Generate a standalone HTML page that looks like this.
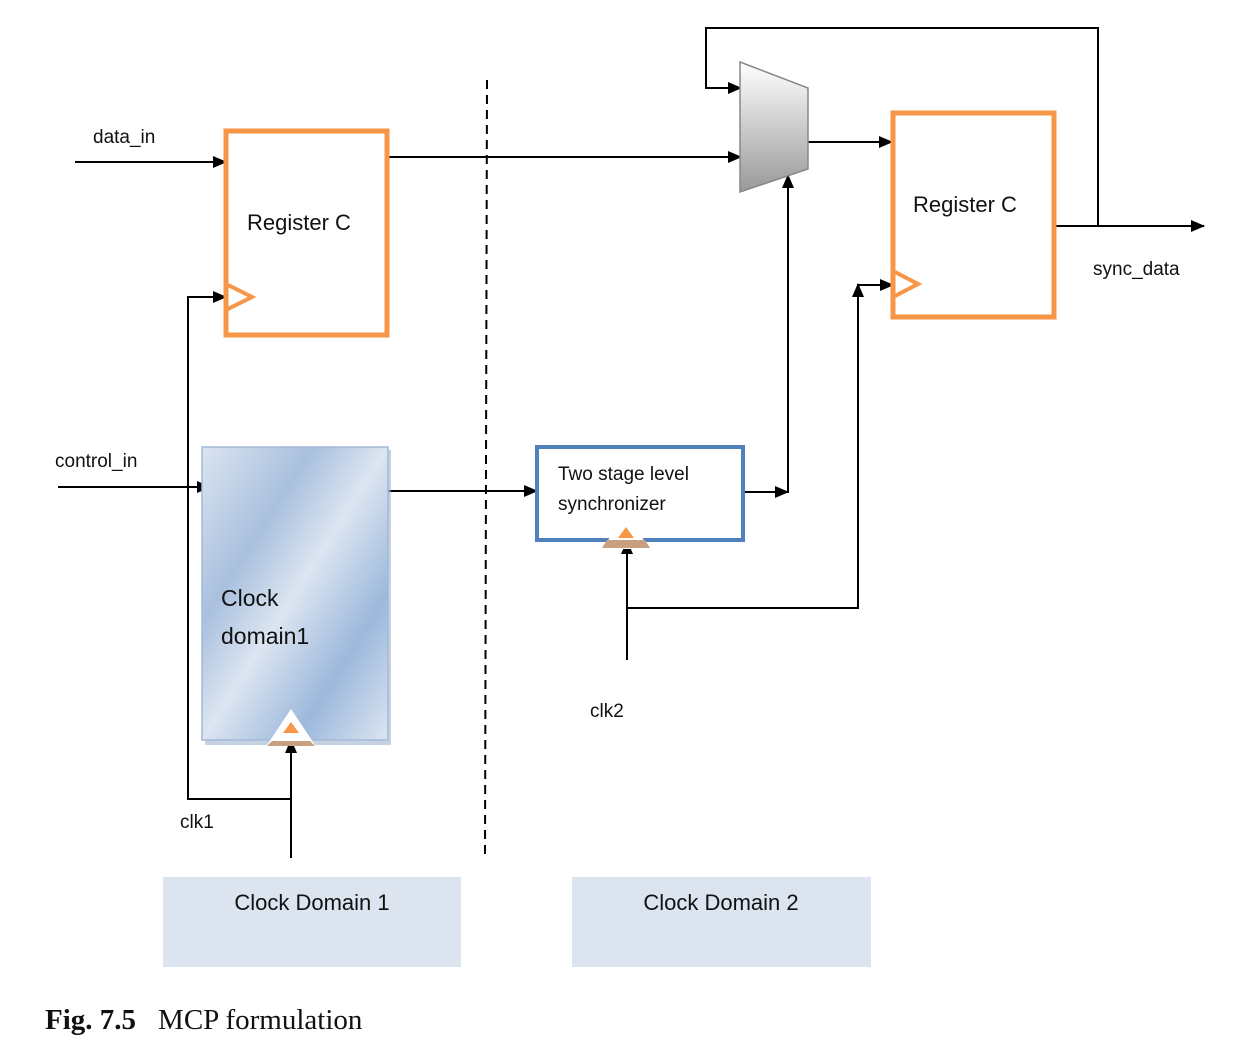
<!DOCTYPE html>
<html><head><meta charset="utf-8"><style>
html,body{margin:0;padding:0;background:#fff;}
svg{display:block;}
text{font-family:"Liberation Sans",sans-serif;fill:#111;}
</style></head><body>
<svg width="1238" height="1046" viewBox="0 0 1238 1046" xmlns="http://www.w3.org/2000/svg">
<defs>
<marker id="a" markerWidth="14" markerHeight="12" refX="13" refY="6" orient="auto" markerUnits="userSpaceOnUse">
<path d="M0,0 L14,6 L0,12 Z" fill="#000"/></marker>
<linearGradient id="mux" x1="0" y1="0" x2="0" y2="1">
<stop offset="0" stop-color="#ffffff"/><stop offset="1" stop-color="#999"/></linearGradient>
<linearGradient id="cd" x1="0" y1="0" x2="1" y2="1">
<stop offset="0" stop-color="#dbe4f0"/><stop offset="0.3" stop-color="#a9c0de"/><stop offset="0.5" stop-color="#dce5f1"/><stop offset="0.75" stop-color="#9cb8dc"/><stop offset="1" stop-color="#dce5f1"/></linearGradient>
</defs>
<g stroke="#000" stroke-width="2" fill="none">
<line x1="487" y1="80" x2="485" y2="855" stroke-dasharray="9,6"/>
<line x1="75" y1="162" x2="226" y2="162" marker-end="url(#a)"/>
<line x1="387" y1="157" x2="741" y2="157" marker-end="url(#a)"/>
<line x1="291" y1="858" x2="291" y2="740" marker-end="url(#a)"/>
<polyline points="291,799 188,799 188,297 226,297" marker-end="url(#a)"/>
<line x1="58" y1="487" x2="210" y2="487" marker-end="url(#a)"/>
<line x1="388" y1="491" x2="537" y2="491" marker-end="url(#a)"/>
<polyline points="744,492 788,492 788,175" marker-end="url(#a)"/>
<line x1="770" y1="492" x2="788" y2="492" marker-end="url(#a)"/>
<line x1="627" y1="660" x2="627" y2="541" marker-end="url(#a)"/>
<polyline points="627,608 858,608 858,284" marker-end="url(#a)"/>
<line x1="858" y1="285" x2="893" y2="285" marker-end="url(#a)"/>
<line x1="808" y1="142" x2="892" y2="142" marker-end="url(#a)"/>
<line x1="1054" y1="226" x2="1204" y2="226" marker-end="url(#a)"/>
<polyline points="1098,226 1098,28 706,28 706,88 741,88" marker-end="url(#a)"/>
</g>
<path d="M740,62 L808,88 L808,169 L740,192 Z" fill="url(#mux)" stroke="#888" stroke-width="1.5"/>
<rect x="226" y="131" width="161" height="204" fill="none" stroke="#f79646" stroke-width="5"/>
<polyline points="228,285 252,297 228,309" fill="none" stroke="#f79646" stroke-width="4"/>
<text x="247" y="230" font-size="22">Register C</text>
<rect x="893" y="113" width="161" height="204" fill="none" stroke="#f79646" stroke-width="5"/>
<polyline points="895,272 918,284 895,296" fill="none" stroke="#f79646" stroke-width="4"/>
<text x="913" y="212" font-size="22">Register C</text>
<rect x="205" y="450" width="186" height="295" fill="#9fb4cf" opacity="0.6"/>
<rect x="202" y="447" width="186" height="293" fill="url(#cd)" stroke="#a3b9d8" stroke-width="1.5"/>
<text x="221" y="606" font-size="23">Clock</text>
<text x="221" y="644" font-size="23">domain1</text>
<polygon points="291,709 315,745 267,745" fill="#fff"/>
<polygon points="272,741 310,741 315,746 267,746" fill="#c8a080"/>
<polygon points="291,722 299,733 283,733" fill="#f79646"/>
<rect x="537" y="447" width="206" height="93" fill="#fff" stroke="#4f81bd" stroke-width="4"/>
<text x="558" y="480" font-size="19">Two stage level</text>
<text x="558" y="510" font-size="19">synchronizer</text>
<polygon points="626,514 650,549 602,549" fill="#fff"/>
<polygon points="607,540 645,540 650,548 602,548" fill="#c8a080"/>
<polygon points="626,527 634,538 618,538" fill="#f79646"/>
<text x="93" y="143" font-size="19">data_in</text>
<text x="55" y="467" font-size="19">control_in</text>
<text x="180" y="828" font-size="19">clk1</text>
<text x="590" y="717" font-size="19">clk2</text>
<text x="1093" y="275" font-size="19">sync_data</text>
<rect x="163" y="877" width="298" height="90" fill="#dbe4ef"/>
<text x="312" y="910" font-size="22" text-anchor="middle">Clock Domain 1</text>
<rect x="572" y="877" width="299" height="90" fill="#dbe4ef"/>
<text x="721" y="910" font-size="22" text-anchor="middle">Clock Domain 2</text>
<text x="45" y="1029" font-size="29" style="font-family:'Liberation Serif',serif"><tspan font-weight="bold">Fig. 7.5</tspan><tspan dx="22">MCP formulation</tspan></text>
</svg>
</body></html>
